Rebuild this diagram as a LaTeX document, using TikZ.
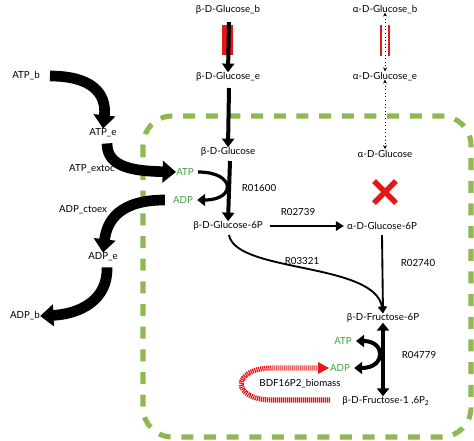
\documentclass[tikz,border=0pt]{standalone}
\usepackage{fontspec}
\setmainfont{Lato}
\usetikzlibrary{arrows.meta,calc}
\definecolor{memb}{RGB}{141,184,82}
\definecolor{cof}{RGB}{60,165,60}
\definecolor{blk}{RGB}{225,25,25}
\begin{document}
\begin{tikzpicture}[x=0.75pt,y=-0.75pt,
  font=\fontsize{7.3}{9}\selectfont,
  met/.style={inner sep=0pt, anchor=center},
  cofac/.style={inner sep=0pt, anchor=center, text=cof},
  rxn/.style={inner sep=0pt, anchor=center},
  bigarr/.style={line width=8pt, -{Triangle[width=16pt,length=10pt]}},
  midarr/.style={line width=3pt, -{Triangle[width=9pt,length=6.5pt]}},
  thinarr/.style={line width=1.4pt, -{Triangle[width=6pt,length=5pt]}},
  dotarr/.style={line width=0.7pt, dotted, {Stealth[length=3pt,width=3pt]}-{Stealth[length=3pt,width=3pt]}},
  hatch/.style={blk, line width=3.8pt, dash pattern=on 0.9pt off 0.6pt},
]
\useasboundingbox (0,0) rectangle (474,440);

% membrane
\draw[memb, line width=3.8pt, dash pattern=on 9pt off 8pt, rounded corners=22pt]
  (143,116) rectangle (471,437);

% metabolite nodes
\node[met] (bgb) at (228,10) {β-D-Glucose\_b};
\node[met] (bge) at (228,77) {β-D-Glucose\_e};
\node[met] (bg) at (228,152) {β-D-Glucose};
\node[met] (bg6) at (228,226) {β-D-Glucose-6P};
\node[met] (agb) at (385,10) {α-D-Glucose\_b};
\node[met] (age) at (385,77) {α-D-Glucose\_e};
\node[met] (ag) at (385,154) {α-D-Glucose};
\node[met] (ag6) at (382,226) {α-D-Glucose-6P};
\node[met] (bf6) at (383,318) {β-D-Fructose-6P};
\node[met] (bf16) at (386,401) {β-D-Fructose-1 ,6P\textsubscript{2}};
\node[met] (atpb) at (26,76) {ATP\_b};
\node[met] (atpe) at (103,133) {ATP\_e};
\node[met] (adpe) at (103,257) {ADP\_e};
\node[met] (adpb) at (25,316) {ADP\_b};
\node[cofac] (atp1) at (185,172) {ATP};
\node[cofac] (adp1) at (183,200) {ADP};
\node[cofac] (atp2) at (343,341) {ATP};
\node[cofac] (adp2) at (340,368) {ADP};

% reaction labels
\node[rxn] (r1) at (92,169) {ATP\_extoc};
\node[rxn] (r2) at (83,210) {ADP\_ctoex};
\node[rxn] (r3) at (259,188) {R01600};
\node[rxn] (r4) at (298,212) {R02739};
\node[rxn] (r5) at (302,261) {R03321};
\node[rxn] (r6) at (418,263) {R02740};
\node[rxn] (r7) at (419,355) {R04779};
\node[rxn] (r8) at (300,384) {BDF16P2\_biomass};

% beta-glucose transport (blocked marker)
\fill[blk] (222,25) rectangle (233,55);
\draw[midarr] (229,22) -- (bge.north);
\draw[midarr] (229,88) -- (bg.north);
\draw[midarr] (230,161) -- (bg6.north);

% R01600 cofactor
\draw[line width=2.4pt, -{Triangle[width=9pt,length=6pt]}]
  (atp1.east) ++(4,0) .. controls (236,172) and (236,200) .. ($(adp1.east)+(4,0)$);

% alpha-glucose
\draw[blk, line width=1.6pt] (381,25) -- (381,56);
\draw[blk, line width=1.6pt] (389,25) -- (389,56);
\draw[dotarr] (agb.south) ++(0,-2) -- ($(age.north)+(0,-1)$);
\draw[dotarr] (age.south) ++(0,-2) -- ($(ag.north)+(0,-1)$);
\draw[blk, line width=4pt] (374,181) -- (396,203);
\draw[blk, line width=4pt] (396,181) -- (374,203);

% glucose-6P branches
\draw[line width=1.6pt, -{Triangle[width=7pt,length=6pt]}] ($(bg6.east)+(7,0)$) -- ($(ag6.west)+(-3,0)$);
\draw[thinarr] (382,235) -- (bf6.north);
\draw[thinarr] (229,235) .. controls (236,273) and (375,262) .. (bf6.north);

% R04779
\draw[line width=2.8pt, {Triangle[width=9pt,length=6pt]}-{Triangle[width=9pt,length=6pt]}]
  (bf6.south) -- (bf16.north -| bf6.south);
\draw[line width=3pt, {Triangle[width=9pt,length=6pt]}-{Triangle[width=9pt,length=6pt]}]
  ($(atp2.east)+(4,0)$) .. controls (386,341) and (386,368) .. ($(adp2.east)+(4,0)$);

% biomass loop
\draw[hatch] (330,400) -- (272,400) .. controls (231,400) and (231,368) .. (272,368) -- (320,368);
\fill[blk] (318,362) -- (329,368) -- (318,374) -- cycle;

% ATP / ADP exchange
\draw[bigarr] ($(atpb.east)+(10,0)$) .. controls (90,76) and (107,92) .. (atpe.north);
\draw[bigarr] ($(atpe.south)+(4,6)$) .. controls (107,168) and (135,171) .. (atp1.west);
\draw[bigarr] ($(adp1.west)+(-8,0)$) .. controls (120,200) and (107,220) .. (adpe.north);
\draw[bigarr] ($(adpe.south)+(4,6)$) .. controls (108,300) and (80,314) .. (adpb.east);
\end{tikzpicture}
\end{document}
